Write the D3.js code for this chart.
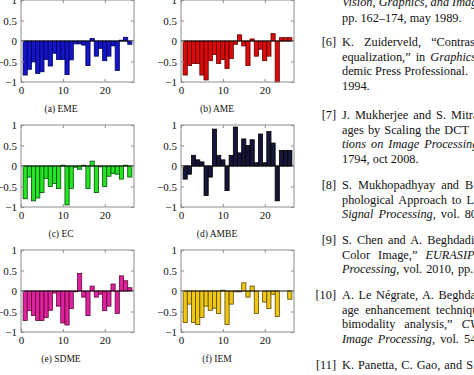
<!DOCTYPE html>
<html>
<head>
<meta charset="utf-8">
<script src="https://cdn.jsdelivr.net/npm/d3@7"></script>
<style>
  body { margin: 0; background: #fff; }
  svg { display: block; }
</style>
</head>
<body>
<script>
// Data: one bar per test image (1..26)
//////////////////////////////////////////////////////////////////////
var images = [1, 2, 3, 4, 5, 6, 7, 8, 9, 10, 11, 12, 13, 14, 15, 16, 17, 18, 19, 20, 21, 22, 23, 24, 25, 26];
var eme  = [-0.83, -0.69, -0.51, -0.79, -0.75, -0.45, -0.61, -0.3, -0.45, -0.45, -0.82, -0.46, -0.07, -0.07, -0.1, -0.6, 0.06, -0.37, -0.18, -0.48, -0.37, -0.12, -0.72, 0.02, 0.09, -0.08];
var ame  = [-0.83, -0.6, -0.55, -0.55, -0.83, -0.95, -0.48, -0.33, -0.55, -0.45, -0.67, -0.43, -0.08, 0.15, -0.12, -0.6, 0.05, -0.37, -0.2, -0.48, -0.37, 0.18, -1.0, 0.08, 0.08, 0.08];
var ec   = [-0.8, -0.27, -0.85, -0.78, -0.65, -0.3, -0.5, -0.43, -0.55, 0.02, -0.95, -0.55, -0.03, -0.08, 0.02, -0.55, 0.12, -0.65, -0.02, -0.5, -0.25, -0.18, -0.2, -0.32, 0.02, -0.27];
var ambe = [-0.32, -0.2, 0.26, 0.15, 0.1, -0.72, -0.27, 0.9, 0.26, 0.15, -0.6, 0.26, 0.95, 0.32, 0.66, 0.5, 0.64, 0.08, 0.78, 0.08, 0.84, 0.56, -0.85, 0.38, 0.38, 0.38];
var sdme = [-0.72, -0.48, -0.6, -0.72, -0.72, -0.65, -0.47, -0.05, -0.37, -0.78, -0.83, -0.43, -0.02, 0.43, -0.15, -0.6, 0.12, -0.15, -0.08, -0.48, -0.37, 0.17, -0.55, 0.37, 0.25, 0.08];
var iem  = [-0.77, -0.32, -0.77, -0.82, -0.65, -0.37, -0.47, -0.42, -0.55, 0.02, -0.82, -0.32, -0.02, -0.02, 0.2, -0.15, 0.12, -0.55, 0, -0.27, -0.43, -0.08, -0.62, 0, 0, -0.2];

var captions = ["(a) EME", "(b) AME", "(c) EC", "(d) AMBE", "(e) SDME", "(f) IEM"];
var yTicks = [-1, -0.5, 0, 0.5, 1];
var xTicks = [0, 10, 20];

// Reference list text on the right (segments: [text, italic])
var refLabels = ["", "", "[6]", "", "", "", "[7]", "", "", "", "[8]", "", "", "[9]", "", "", "[10]", "", "", "", "[11]"];
var refLines = [
  [["Vision, Graphics, and Image", true]],
  [["pp. 162–174, may 1989.", false]],
  [["K. Zuiderveld, “Contrast", false]],
  [["equalization,” in ", false], ["Graphics", true]],
  [["demic Press Professional.", false]],
  [["1994.", false]],
  [["J. Mukherjee and S. Mitra,", false]],
  [["ages by Scaling the DCT", false]],
  [["tions on Image Processing", true]],
  [["1794, oct 2008.", false]],
  [["S. Mukhopadhyay and B.", false]],
  [["phological Approach to Lo", false]],
  [["Signal Processing", true], [", vol. 80", false]],
  [["S. Chen and A. Beghdadi", false]],
  [["Color Image,” ", false], ["EURASIP", true]],
  [["Processing", true], [", vol. 2010, pp.", false]],
  [["A. Le Négrate, A. Beghdadi", false]],
  [["age enhancement technique", false]],
  [["bimodality analysis,” ", false], ["CVGIP", true]],
  [["Image Processing", true], [", vol. 54", false]],
  [["K. Panetta, C. Gao, and S.", false]]
];
var refBaselines = [6, 22, 46, 60.5, 75, 89.5, 119, 133.5, 148, 162.5, 189, 203.5, 218, 244, 258.5, 273, 299, 313.5, 328, 342.5, 369];
var refSpacing = [0, 0, 7, 2, 0, 0, 2, 1, 2, 0, 3, 2, 2, 2, 5, 1, 1.5, 3, 6, 2, 1];

// Variables
//////////////////////////////////////////////////////////////////////
var width = 474, height = 375;
var pw = 113, ph = 82;
var colLeft = [21, 181];
var rowTop = [0, 125, 250];
var series = [eme, ame, ec, ambe, sdme, iem];
var fills   = ["#1414c8", "#dc0a0a", "#22e622", "#16163a", "#e0209c", "#f0c814"];
var strokes = ["#00005a", "#5a0000", "#064a06", "#000000", "#5a0838", "#5a4800"];
var axisColor = "#8c8c8c";

var x = d3.scaleLinear().domain([0, 27]).range([0, pw]);
var y = d3.scaleLinear().domain([-1, 1]).range([ph, 0]);

var svg = d3.select("body").append("svg")
  .attr("width", width)
  .attr("height", height)
  .style("font-family", "'Liberation Serif', 'Times New Roman', serif");

svg.append("rect").attr("width", width).attr("height", height).attr("fill", "#fff");

// Panels
//////////////////////////////////////////////////////////////////////
series.forEach(function (values, k) {
  var g = svg.append("g")
    .attr("transform", `translate(${colLeft[k % 2]},${rowTop[Math.floor(k / 2)]})`);

  g.append("g")
    .selectAll("rect")
    .data(images)
    .join("rect")
    .attr("x", (d, i) => x(d - 0.5))
    .attr("width", x(1) - x(0))
    .attr("y", (d, i) => y(Math.max(0, values[i])))
    .attr("height", (d, i) => Math.abs(y(values[i]) - y(0)))
    .attr("fill", fills[k])
    .attr("stroke", strokes[k])
    .attr("stroke-width", 0.8);

  g.append("line")
    .attr("x1", x(0)).attr("x2", x(27))
    .attr("y1", y(0)).attr("y2", y(0))
    .attr("stroke", "#111").attr("stroke-width", 1);

  var fmt = d3.format("");
  var styleAxis = function (a) {
    a.select(".domain").remove();
    a.selectAll(".tick line").attr("stroke", axisColor);
    a.selectAll("text").attr("fill", "#111").attr("font-size", 11).attr("font-family", "'Liberation Serif', serif");
  };

  g.append("g").call(d3.axisLeft(y).tickValues(yTicks).tickSize(-3).tickPadding(4).tickFormat(fmt)).call(styleAxis);
  g.append("g").attr("transform", `translate(${pw},0)`)
    .call(d3.axisRight(y).tickValues(yTicks).tickSize(-3).tickFormat("")).call(styleAxis);
  g.append("g").attr("transform", `translate(0,${ph})`)
    .call(d3.axisBottom(x).tickValues(xTicks).tickSize(-3).tickPadding(4).tickFormat(fmt)).call(styleAxis);
  g.append("g")
    .call(d3.axisTop(x).tickValues(xTicks).tickSize(-3).tickFormat("")).call(styleAxis);

  g.append("rect")
    .attr("width", pw).attr("height", ph)
    .attr("fill", "none").attr("stroke", axisColor).attr("stroke-width", 1);

  g.append("text")
    .attr("x", k % 2 ? 36 : 40)
    .attr("y", ph + 30)
    .attr("text-anchor", "middle")
    .attr("font-size", 9.5)
    .attr("fill", "#111")
    .text(captions[k]);
});

// Reference column
//////////////////////////////////////////////////////////////////////
var refs = svg.append("g")
  .attr("font-size", 12.3)
  .attr("fill", "#111");

refs.selectAll("text.lab")
  .data(refLabels)
  .join("text")
  .attr("class", "lab")
  .attr("x", 336)
  .attr("y", (d, i) => refBaselines[i])
  .attr("text-anchor", "end")
  .text(d => d);

refs.selectAll("text.line")
  .data(refLines)
  .join("text")
  .attr("class", "line")
  .attr("x", 342)
  .attr("y", (d, i) => refBaselines[i])
  .attr("word-spacing", (d, i) => refSpacing[i])
  .selectAll("tspan")
  .data(d => d)
  .join("tspan")
  .attr("font-style", d => d[1] ? "italic" : null)
  .text(d => d[0]);
</script>
</body>
</html>
